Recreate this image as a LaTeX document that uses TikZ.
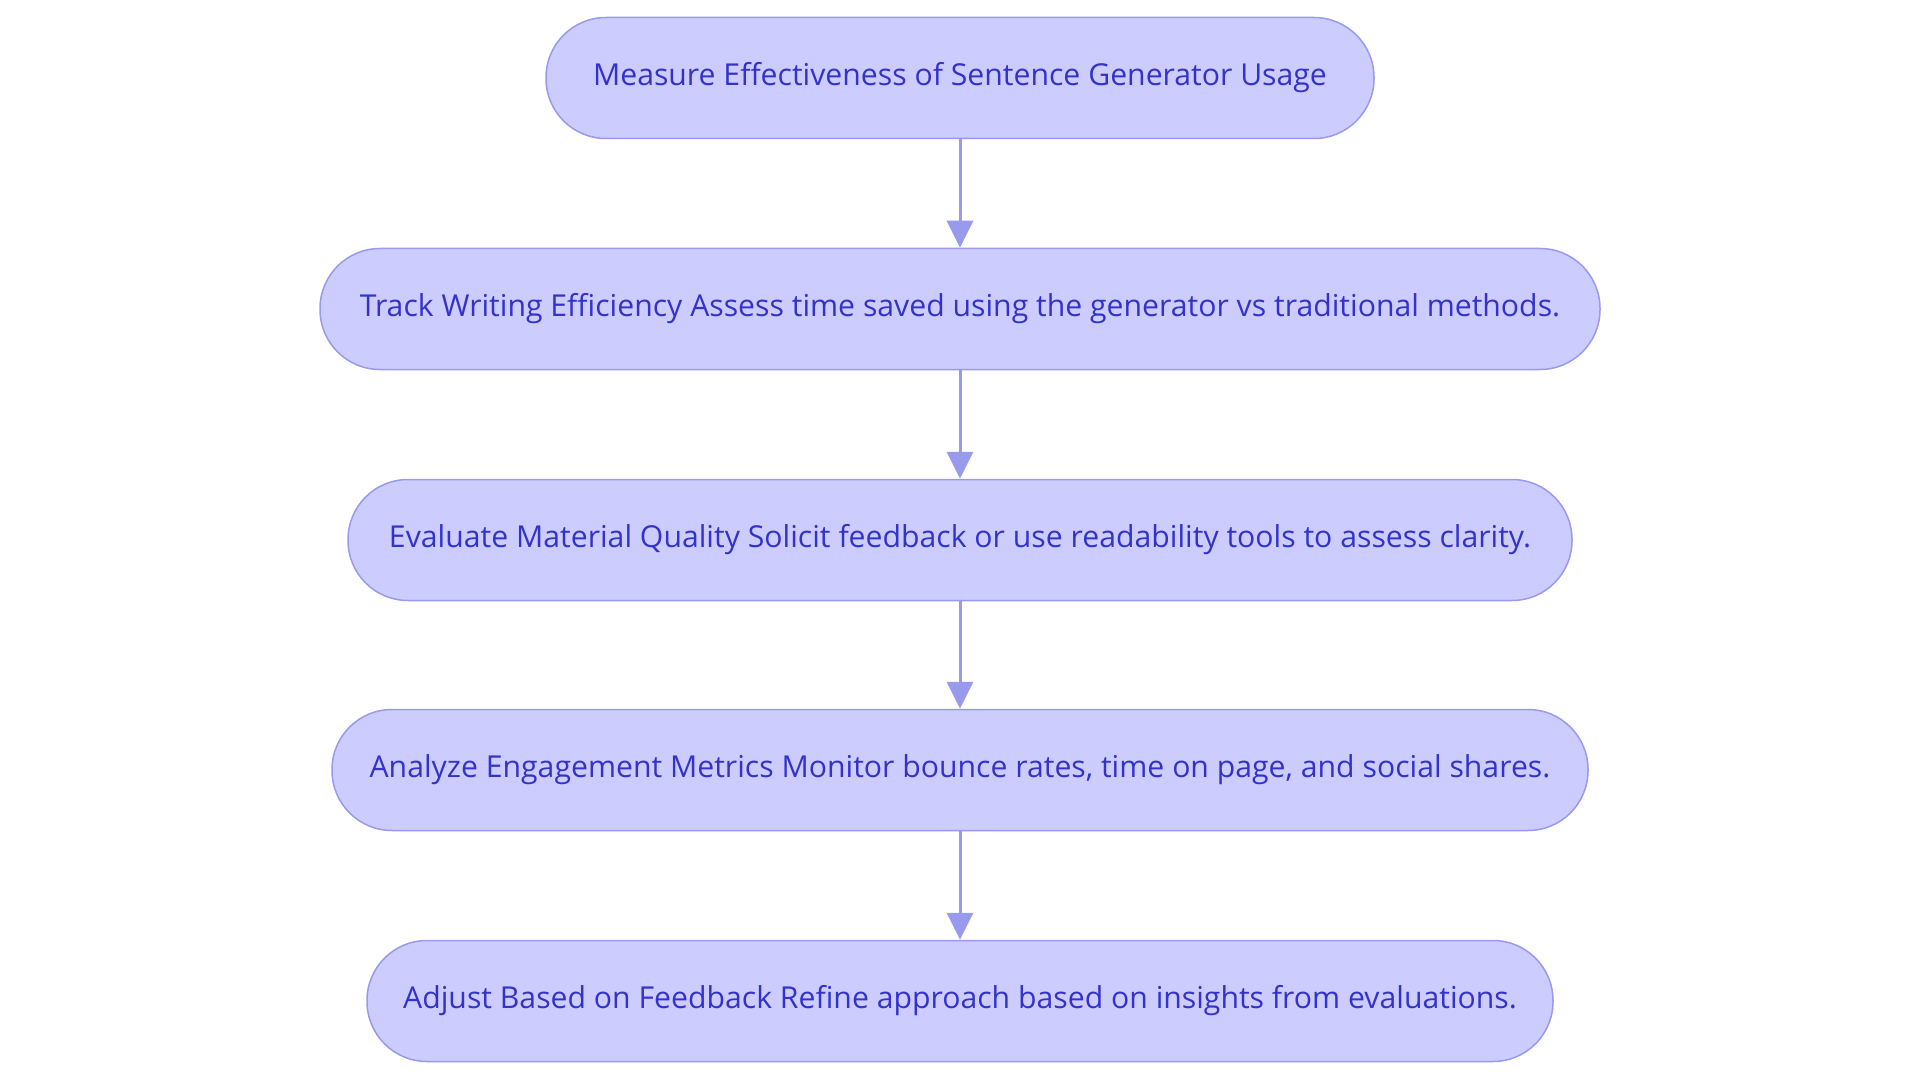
\documentclass[tikz,border=0pt]{standalone}
\usepackage{fontspec}
\setmainfont{Open Sans}
\usetikzlibrary{arrows.meta}
\definecolor{boxfill}{HTML}{CCCCFF}
\definecolor{boxline}{HTML}{9999EE}
\definecolor{boxtext}{HTML}{3333CC}
\definecolor{arrowcol}{HTML}{9999EE}
\begin{document}
\begin{tikzpicture}[x=1pt,y=-1pt,
  stadium/.style={draw=boxline, fill=boxfill, line width=1.5pt, rounded corners=60pt,
    minimum height=121pt, inner sep=0pt, text=boxtext,
    font=\fontsize{30.2}{36}\selectfont},
  flowarrow/.style={draw=arrowcol, line width=3pt,
    -{Triangle[length=27pt,width=26pt]}, shorten >=0pt}]
\useasboundingbox (0,0) rectangle (1920,1083);
\node[stadium, minimum width=828pt] (n1) at (960,78) {Measure Effectiveness of Sentence Generator Usage};
\node[stadium, minimum width=1280pt] (n2) at (960,309) {Track Writing Efficiency Assess time saved using the generator vs traditional methods.};
\node[stadium, minimum width=1224pt] (n3) at (960,540) {Evaluate Material Quality Solicit feedback or use readability tools to assess clarity.};
\node[stadium, minimum width=1256pt] (n4) at (960,770) {Analyze Engagement Metrics Monitor bounce rates, time on page, and social shares.};
\node[stadium, minimum width=1186pt] (n5) at (960,1001) {Adjust Based on Feedback Refine approach based on insights from evaluations.};
\draw[flowarrow] (n1) -- (n2);
\draw[flowarrow] (n2) -- (n3);
\draw[flowarrow] (n3) -- (n4);
\draw[flowarrow] (n4) -- (n5);
\end{tikzpicture}
\end{document}
